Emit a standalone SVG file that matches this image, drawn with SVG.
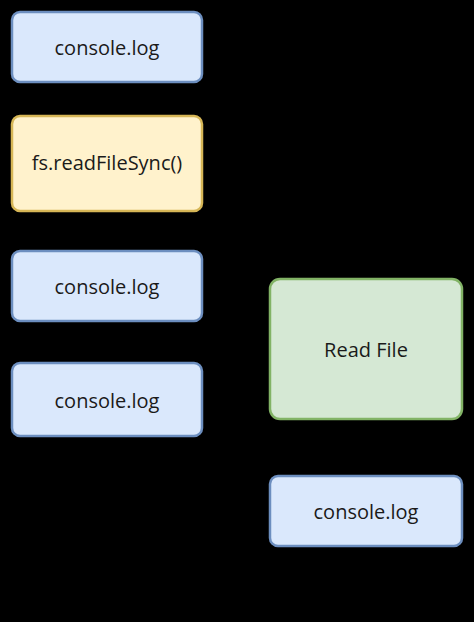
<svg xmlns="http://www.w3.org/2000/svg" width="474" height="622" viewBox="0 0 474 622">
<defs>
<style>
.n{stroke-width:2.5}
.blue{fill:#dae8fc;stroke:#6c8ebf}
.yellow{fill:#fff2cc;stroke:#d6b656}
.green{fill:#d5e8d4;stroke:#82b366}
.t{font-family:"Open Sans","Noto Sans","Liberation Sans",sans-serif;font-size:20px;fill:#1a1a1a;text-anchor:middle;dominant-baseline:central}
.c{fill:none;stroke:#000;stroke-width:1.5}
</style>
<marker id="ah" markerWidth="8" markerHeight="8" refX="7" refY="4" orient="auto" markerUnits="userSpaceOnUse">
<path d="M0,0 L8,4 L0,8 Z" fill="#000"/>
</marker>
</defs>
<rect width="474" height="622" fill="#000"/>
<g id="connectors">
<path class="c" d="M107,83 L107,113" marker-end="url(#ah)"/>
<path class="c" d="M107,212 L107,248" marker-end="url(#ah)"/>
<path class="c" d="M107,322 L107,360" marker-end="url(#ah)"/>
<path class="c" d="M366,420 L366,473" marker-end="url(#ah)"/>
<path class="c" d="M366,278 L366,162 L205,162" marker-end="url(#ah)"/>
</g>
<g id="node1">
<rect class="n blue" x="12" y="12" width="190" height="70" rx="8"/>
<text class="t" x="107" y="47">console.log</text>
</g>
<g id="node2">
<rect class="n yellow" x="12" y="116" width="190" height="95" rx="8"/>
<text class="t" x="107" y="162">fs.readFileSync()</text>
</g>
<g id="node3">
<rect class="n blue" x="12" y="251" width="190" height="70" rx="8"/>
<text class="t" x="107" y="286">console.log</text>
</g>
<g id="node4">
<rect class="n blue" x="12" y="363" width="190" height="73" rx="8"/>
<text class="t" x="107" y="400">console.log</text>
</g>
<g id="node5">
<rect class="n green" x="270" y="279" width="192" height="140" rx="10"/>
<text class="t" x="366" y="349">Read File</text>
</g>
<g id="node6">
<rect class="n blue" x="270" y="476" width="192" height="70" rx="8"/>
<text class="t" x="366" y="511">console.log</text>
</g>
</svg>
